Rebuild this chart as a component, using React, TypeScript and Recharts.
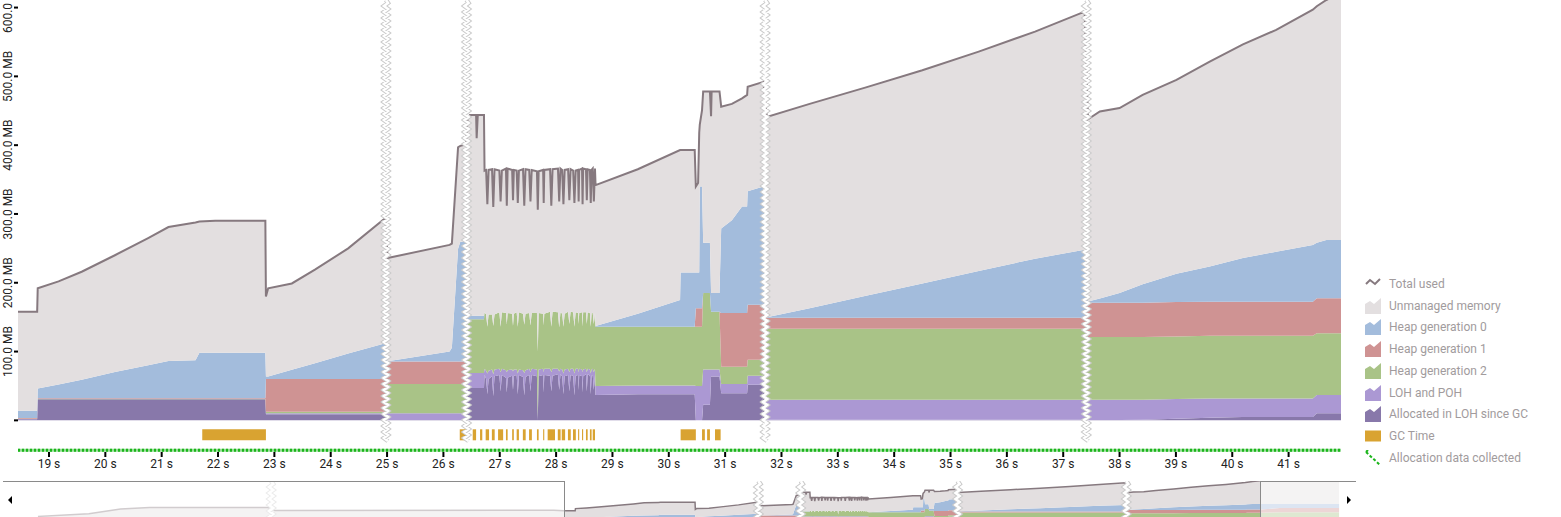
import React from 'react';
import { ComposedChart, Area, Line, XAxis, YAxis, ReferenceArea, ReferenceLine } from 'recharts';

const FONT = "'Segoe UI', Roboto, 'Noto Sans', sans-serif";

// ---- memory timeline (MB), rows are snapshots in seconds ----
const timeS = [
  18.45, 18.79, 18.8, 19.17, 19.58, 20.17, 20.76, 21.12, 21.6, 21.67, 21.95, 22.84, 22.85, 22.89, 23.31, 23.72, 24.31, 24.97,
  25.01, 26.11, 26.15, 26.26, 26.3, 26.4,
  26.43, 26.47, 26.58, 26.59, 26.61, 26.72, 26.73,
  28.7, 29.45, 30.2, 30.21, 30.46, 30.48, 30.52, 30.54, 30.55, 30.59, 30.61, 30.73, 30.75, 30.76, 30.9, 30.93, 31.12, 31.3, 31.39, 31.4, 31.68,
  31.74, 32.5, 33.5, 34.5, 35.5, 36.5, 37.38,
  37.44, 37.65, 38.0, 38.41, 39.01, 39.6, 40.19, 40.78, 41.43, 41.5, 41.67, 41.93,
];
const totalUsed = [
  158, 158, 192, 202, 216, 240, 265, 281, 287.5, 289, 290, 290, 180, 192, 199, 219, 250, 294,
  236, 255, 257, 397, 399, 401,
  440, 444, 444, 410, 444, 444, 363,
  342, 365, 393, 393, 393, 340, 345, 418, 430, 451, 478, 478, 442, 478, 478, 456, 460, 468, 473, 485, 492,
  441, 460, 484, 509, 536, 565, 594,
  437.6, 449, 454, 473, 495, 521.5, 546.6, 567.6, 597, 602, 611, 622,
];
const allocLoh = [
  1.5, 1.5, 30.5, 30.5, 30.5, 30.5, 30.5, 30.5, 30.5, 30.5, 30.5, 30.5, 9, 9, 9, 9, 9, 9,
  0.5, 0.5, 0.5, 0.5, 0.5, 0.5,
  47, 47, 47, 47, 47, 47, 66,
  37, 38, 38, 38, 38, 0, 0, 0, 0, 0, 22.5, 22.5, 63.7, 63.7, 63.7, 39.5, 39.5, 39.5, 39.5, 51.6, 51.6,
  1, 1, 1, 1, 1, 1, 1,
  0.5, 0.5, 0.5, 0.8, 2.3, 3.9, 5, 5, 5, 10.5, 10.5, 10.5,
];
const lohPoh = [
  0.5, 0.5, 0.3, 0.3, 0.3, 0.3, 0.3, 0.3, 0.3, 0.3, 0.3, 0.3, 1.5, 1.5, 1.5, 1.5, 1.5, 1.5,
  10, 10, 10, 10, 10, 10,
  22, 22, 22, 22, 22, 22, 9,
  13, 12.5, 12.5, 12.5, 12.5, 50, 50, 50, 50, 50, 51.5, 51.5, 10.3, 10.3, 10.3, 13.5, 13.5, 13.5, 13.5, 13.1, 13.1,
  29, 29, 29, 29, 29, 29, 29,
  29.3, 29.3, 29.3, 29.2, 28.7, 27.8, 26.7, 26.7, 26.7, 26.5, 26.5, 26.5,
];
const gen2 = [
  0.5, 0.5, 0.2, 0.2, 0.2, 0.2, 0.2, 0.2, 0.2, 0.2, 0.2, 0.2, 2, 2, 2, 2, 2, 2,
  42.5, 42.5, 42.5, 42.5, 42.5, 42.5,
  78, 78, 78, 78, 78, 78, 82,
  86, 85.5, 85.5, 85.5, 85.5, 86, 86, 86, 86, 86, 111, 111, 84, 84, 84, 25, 25, 25, 25, 23.3, 23.3,
  103, 103, 103, 103, 103, 103, 103,
  91.2, 91.2, 91.2, 91, 91, 91.3, 91.3, 91.3, 91.3, 89.7, 89.7, 89.7,
];
const gen1 = [
  1, 1, 1.2, 1.2, 1.2, 1.2, 1.2, 1.2, 1.2, 1.2, 1.2, 1.2, 47.5, 47.5, 47.5, 47.5, 47.5, 47.5,
  32.5, 32.5, 32.5, 32.5, 32.5, 32.5,
  0, 0, 0, 0, 0, 0, 0,
  0, 0, 0, 0, 0, 27, 27, 27, 27, 27, 0, 0, 0, 0, 0, 78, 78, 78, 78, 80, 80,
  16, 16, 16, 16, 16, 16, 16,
  49.8, 49.8, 49.8, 50, 50, 49.5, 49.5, 49.5, 49.5, 50.9, 50.9, 50.9,
];
const gen0 = [
  10.5, 10.5, 14, 20, 27, 38, 48, 54, 55, 66, 66, 66, 3.7, 3.7, 13.5, 23, 37, 52,
  0.5, 14.5, 20, 164, 174, 174,
  5, 5, 5, 5, 5, 5, 0,
  1, 19, 39, 79, 79, 52, 52, 52, 177, 177, 73, 73, 27, 27, 27, 123, 135, 155, 155, 165, 172,
  1, 14, 32, 50, 68, 86, 99,
  1.9, 6.2, 14.2, 27, 41, 51, 63.5, 72.5, 82.5, 80.4, 84.4, 84.4,
];

// GC pauses (s)
const gcStart = [21.72, 26.29, 26.52, 26.65, 26.75, 26.86, 26.97, 27.11, 27.22, 27.3, 27.41, 27.52, 27.66, 27.77, 27.85, 28.03, 28.1, 28.21, 28.3, 28.39, 28.46, 28.53, 28.6, 28.65, 30.21, 30.59, 30.68, 30.82];
const gcEnd = [22.85, 26.4, 26.58, 26.69, 26.81, 26.91, 27.06, 27.14, 27.25, 27.34, 27.46, 27.57, 27.69, 27.79, 27.98, 28.08, 28.16, 28.26, 28.35, 28.41, 28.48, 28.56, 28.63, 28.69, 30.48, 30.64, 30.73, 30.92];

// sawtooth phase (26.73 s - 28.70 s): level around each GC and the dip it causes
const SAW_FROM = 26.73;
const SAW_TO = 28.7;
const sawPeakTotal = [364, 365, 363, 366, 364, 363, 365, 364, 362, 364, 365, 366, 364, 365, 363, 364, 366, 365, 364, 366];
const sawPeakAlloc = [60, 64, 66, 62, 65, 66, 63, 66, 64, 66, 65, 67, 64, 66, 65, 66, 64, 67, 65, 66];
const sawPeakLoh = [12, 10, 9, 11, 9, 8, 10, 9, 10, 9, 10, 8, 10, 9, 10, 9, 10, 8, 9, 9];
const sawPeakGen2 = [82, 80, 82, 83, 81, 83, 82, 81, 82, 80, 83, 82, 81, 83, 82, 81, 83, 82, 82, 81];
const sawDipTotal = [314, 310, 318, 312, 320, 316, 312, 318, 306, 316, 312, 318, 314, 320, 316, 318, 314, 320, 316, 318];
const sawDipAlloc = [38, 35, 42, 40, 44, 38, 36, 42, 0, 40, 42, 44, 38, 42, 36, 44, 40, 42, 38, 44];
const sawDipLoh = [30, 32, 28, 30, 27, 30, 33, 28, 4, 30, 28, 27, 30, 28, 32, 26, 30, 28, 30, 26];
const sawDipGen2 = [68, 70, 66, 70, 66, 68, 70, 68, 96, 68, 66, 64, 68, 70, 68, 70, 66, 70, 68, 70];
const DIP_HALF_WIDTH = 0.022; // s, spikes are narrower than the GC bars

const breaks = [24.98, 26.41, 31.71, 37.41];
const allocCollected = [18.45, 41.93];
const xTicks = [19, 20, 21, 22, 23, 24, 25, 26, 27, 28, 29, 30, 31, 32, 33, 34, 35, 36, 37, 38, 39, 40, 41];
const yTicks = [0, 100, 200, 300, 400, 500, 600];

// overview strip: whole session
const earlyTime = [0.64, 2.36, 3.43, 4.41, 8.41, 8.64, 18.07, 18.4];
const earlyTotal = [71, 113, 185, 210, 210, 164, 165, 158];
const earlyBreaks = [8.52];
const lateTime = [42.6, 44.6];
const lateTotal = [640, 655];
const lateAlloc = [11, 11];
const lateLoh = [28, 28];
const lateGen2 = [98, 98];
const lateGen1 = [63, 63];
const lateGen0 = [63, 63];

const C = {
  total: '#86797f',
  unmanaged: '#e3dfe0',
  g0: '#a3bcdc',
  g1: '#cf9393',
  g2: '#a9c387',
  loh: '#ab98d3',
  alloc: '#8878aa',
  gc: '#d9a331',
  green: '#1cb51c',
};

type Row = { t: number; total: number; alloc: number; loh: number; g2: number; g1: number; g0: number; unmanaged?: number };

const withUnmanaged = (r: Row): Row => ({
  ...r,
  unmanaged: Math.max(0, r.total - r.alloc - r.loh - r.g2 - r.g1 - r.g0),
});

const mainRows: Row[] = timeS.map((t, i) => ({
  t, total: totalUsed[i], alloc: allocLoh[i], loh: lohPoh[i], g2: gen2[i], g1: gen1[i], g0: gen0[i],
}));

// one narrow spike per GC in the sawtooth phase
const sawRows: Row[] = [];
let k = 0;
gcStart.forEach((s, i) => {
  const e = gcEnd[i];
  if (s < SAW_FROM || e > SAW_TO) return;
  const mid = (s + e) / 2;
  const half = Math.min(DIP_HALF_WIDTH, (e - s) / 2);
  const peak = { total: sawPeakTotal[k], alloc: sawPeakAlloc[k], loh: sawPeakLoh[k], g2: sawPeakGen2[k], g1: 0, g0: 0 };
  const dip = { total: sawDipTotal[k], alloc: sawDipAlloc[k], loh: sawDipLoh[k], g2: sawDipGen2[k], g1: 0, g0: 0 };
  sawRows.push({ t: mid - half, ...peak }, { t: mid, ...dip }, { t: mid + half, ...peak });
  k++;
});

const memRows = [...mainRows, ...sawRows].sort((a, b) => a.t - b.t).map(withUnmanaged);

const overviewRows = [
  ...earlyTime.map((t, i) => withUnmanaged({ t, total: earlyTotal[i], alloc: 0, loh: 0, g2: 0, g1: 0, g0: 0 })),
  ...memRows,
  ...lateTime.map((t, i) =>
    withUnmanaged({ t, total: lateTotal[i], alloc: lateAlloc[i], loh: lateLoh[i], g2: lateGen2[i], g1: lateGen1[i], g0: lateGen0[i] })
  ),
];

// rows below the memory area, in MB units of the main y axis
const Y_MAX = 611;
const Y_MIN = -46;
const GC_TOP = -13;
const GC_BOTTOM = -29;
const BREAK_BOTTOM = -33;
const ALLOC_ROW = -43.6;

const ZigZag = (props: any) => {
  const { x1, y1, y2 } = props;
  if (x1 == null || y1 == null || y2 == null) return null;
  const top = Math.min(y1, y2);
  const bottom = Math.max(y1, y2);
  let d = `M${x1},${top}`;
  let n = 0;
  for (let y = top + 3; y <= bottom; y += 3) {
    d += ` L${x1 + (n % 2 === 0 ? 2 : -2)},${y}`;
    n++;
  }
  return (
    <g>
      <path d={d} stroke="#cacaca" strokeWidth={4.6} fill="none" />
      <path d={d} stroke="#ffffff" strokeWidth={2.6} fill="none" />
    </g>
  );
};

const renderYTick = (props: any) => {
  const { y, payload } = props;
  if (!payload || payload.value === 0) return <g />;
  return (
    <text
      x={8}
      y={y}
      transform={`rotate(-90 8 ${y})`}
      textAnchor="middle"
      dominantBaseline="central"
      fontSize={12}
      fill="#222"
      fontFamily={FONT}
    >
      {`${payload.value.toFixed(1)} MB`}
    </text>
  );
};

const memoryAreas = (strokeWidth: number) => [
  <Area key="alloc" type="linear" dataKey="alloc" stackId="m" stroke="none" fill={C.alloc} fillOpacity={1} isAnimationActive={false} dot={false} activeDot={false} />,
  <Area key="loh" type="linear" dataKey="loh" stackId="m" stroke="none" fill={C.loh} fillOpacity={1} isAnimationActive={false} dot={false} activeDot={false} />,
  <Area key="g2" type="linear" dataKey="g2" stackId="m" stroke="none" fill={C.g2} fillOpacity={1} isAnimationActive={false} dot={false} activeDot={false} />,
  <Area key="g1" type="linear" dataKey="g1" stackId="m" stroke="none" fill={C.g1} fillOpacity={1} isAnimationActive={false} dot={false} activeDot={false} />,
  <Area key="g0" type="linear" dataKey="g0" stackId="m" stroke="none" fill={C.g0} fillOpacity={1} isAnimationActive={false} dot={false} activeDot={false} />,
  <Area key="un" type="linear" dataKey="unmanaged" stackId="m" stroke="none" fill={C.unmanaged} fillOpacity={1} isAnimationActive={false} dot={false} activeDot={false} />,
  <Line key="total" type="linear" dataKey="total" stroke={C.total} strokeWidth={strokeWidth} dot={false} activeDot={false} isAnimationActive={false} />,
];

const legendItems = [
  { label: 'Total used', kind: 'line', color: C.total },
  { label: 'Unmanaged memory', kind: 'area', color: C.unmanaged },
  { label: 'Heap generation 0', kind: 'area', color: C.g0 },
  { label: 'Heap generation 1', kind: 'area', color: C.g1 },
  { label: 'Heap generation 2', kind: 'area', color: C.g2 },
  { label: 'LOH and POH', kind: 'area', color: C.loh },
  { label: 'Allocated in LOH since GC', kind: 'area', color: C.alloc },
  { label: 'GC Time', kind: 'rect', color: C.gc },
  { label: 'Allocation data collected', kind: 'dash', color: C.green },
];

const LegendIcon = ({ kind, color }: { kind: string; color: string }) => (
  <svg width={16} height={16} style={{ display: 'block' }}>
    {kind === 'line' && <polyline points="1,8 5,4 10,8 15,3" fill="none" stroke={color} strokeWidth={2} />}
    {kind === 'area' && <polygon points="0,16 0,6 5,3 9,6 16,0 16,16" fill={color} />}
    {kind === 'rect' && <rect x={0} y={2.5} width={16} height={11} fill={color} />}
    {kind === 'dash' && (
      <g>
        <line x1={1} y1={2} x2={15} y2={15} stroke={color} strokeWidth={2} strokeDasharray="3 2" />
        <line x1={1} y1={2} x2={3} y2={0} stroke={color} strokeWidth={2} />
      </g>
    )}
  </svg>
);

export default function App() {
  return (
    <div style={{ position: 'absolute', left: 0, top: 0, width: 1561, height: 517, overflow: 'hidden', background: '#fff', fontFamily: FONT }}>
      <ComposedChart width={1561} height={480} data={memRows} margin={{ top: 0, right: 220, bottom: 0, left: 0 }}>
        <XAxis
          dataKey="t"
          type="number"
          domain={[allocCollected[0], allocCollected[1]]}
          allowDataOverflow
          ticks={xTicks}
          interval={0}
          tickFormatter={(v: number) => `${v} s`}
          axisLine={false}
          tickLine={{ stroke: '#000', strokeWidth: 2 }}
          tickSize={5}
          height={28}
          tick={{ fontSize: 12, fill: '#222', fontFamily: FONT }}
        />
        <YAxis
          type="number"
          domain={[Y_MIN, Y_MAX]}
          allowDataOverflow
          ticks={yTicks}
          interval={0}
          width={18}
          axisLine={false}
          tickLine={{ stroke: '#000', strokeWidth: 2 }}
          tickSize={4}
          tick={renderYTick}
        />
        {memoryAreas(2)}
        {gcStart.map((s, i) => (
          <ReferenceArea key={`gc${i}`} x1={s} x2={gcEnd[i]} y1={GC_BOTTOM} y2={GC_TOP} fill={C.gc} fillOpacity={1} stroke="none" />
        ))}
        <ReferenceLine
          segment={[{ x: allocCollected[0], y: ALLOC_ROW }, { x: allocCollected[1], y: ALLOC_ROW }]}
          stroke="#94dc94"
          strokeWidth={3}
        />
        <ReferenceLine
          segment={[{ x: allocCollected[0], y: ALLOC_ROW }, { x: allocCollected[1], y: ALLOC_ROW }]}
          stroke={C.green}
          strokeWidth={3}
          strokeDasharray="2 2"
        />
        {breaks.map((b) => (
          <ReferenceLine key={`br${b}`} segment={[{ x: b, y: Y_MAX }, { x: b, y: BREAK_BOTTOM }]} shape={ZigZag} zIndex={450} />
        ))}
      </ComposedChart>

      {/* legend */}
      <div style={{ position: 'absolute', left: 1365, top: 273, width: 196 }}>
        {legendItems.map((it) => (
          <div key={it.label} style={{ display: 'flex', alignItems: 'center', height: 21.75 }}>
            <LegendIcon kind={it.kind} color={it.color} />
            <span style={{ marginLeft: 8, fontSize: 12, color: '#a19b9d', whiteSpace: 'nowrap' }}>{it.label}</span>
          </div>
        ))}
      </div>

      {/* overview strip */}
      <div style={{ position: 'absolute', left: 0, top: 481, width: 1561, height: 40 }}>
        <ComposedChart width={1561} height={40} data={overviewRows} margin={{ top: 0, right: 221, bottom: 0, left: 19 }}>
          <XAxis dataKey="t" type="number" domain={[0, 44.63]} allowDataOverflow hide height={0} />
          <YAxis type="number" domain={[0, 620]} allowDataOverflow hide width={0} />
          {memoryAreas(1.5)}
          {[...earlyBreaks, ...breaks].map((b) => (
            <ReferenceLine key={`ob${b}`} x={b} shape={ZigZag} zIndex={450} />
          ))}
          <ReferenceArea x1={0} x2={allocCollected[0]} y1={0} y2={620} fill="#fff" fillOpacity={0.62} stroke="none" zIndex={500} />
          <ReferenceArea x1={allocCollected[1]} x2={44.63} y1={0} y2={620} fill="#fff" fillOpacity={0.62} stroke="none" zIndex={500} />
        </ComposedChart>
      </div>
      <div style={{ position: 'absolute', left: 3, top: 481, width: 562, height: 40, boxSizing: 'border-box', borderTop: '1px solid #8a8a8a', borderRight: '1px solid #8a8a8a' }} />
      <div style={{ position: 'absolute', left: 1260, top: 481, width: 96, height: 40, boxSizing: 'border-box', borderTop: '1px solid #8a8a8a', borderLeft: '1px solid #8a8a8a' }} />
      <svg style={{ position: 'absolute', left: 0, top: 481 }} width={1561} height={36}>
        <polygon points="8,19 12,15 12,23" fill="#000" />
        <polygon points="1351,19 1347,15 1347,23" fill="#000" />
      </svg>
    </div>
  );
}
